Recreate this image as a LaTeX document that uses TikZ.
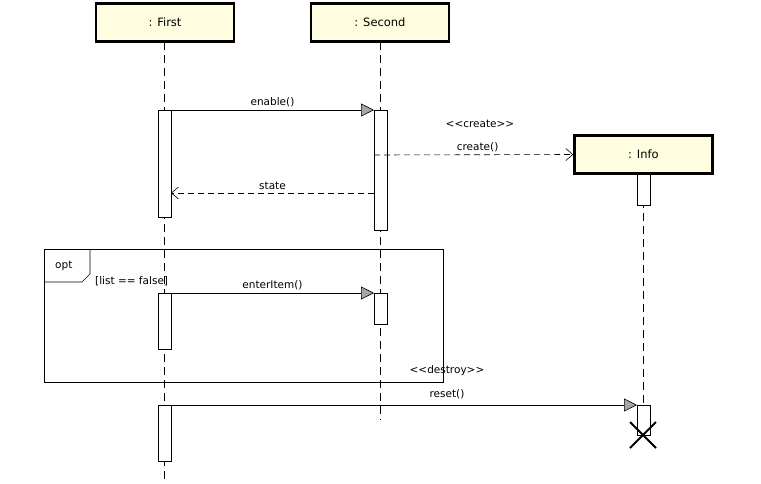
\documentclass[tikz,border=0pt]{standalone}
\usepackage{fontspec}
\setmainfont{DejaVu Sans}[Ligatures=NoCommon]
\usetikzlibrary{arrows.meta}
\begin{document}
\begin{tikzpicture}[x=1pt,y=-1pt,
  obj/.style={draw,line width=2.5pt,fill=yellow!12,minimum width=138pt,minimum height=38pt,inner sep=0pt,font=\fontsize{11.5}{13}\selectfont},
  act/.style={draw,fill=white,line width=0.6pt},
  life/.style={dashed,dash pattern=on 8pt off 5pt,line width=0.6pt},
  sync/.style={line width=0.6pt,-{Triangle[length=13pt,width=13pt,fill=gray!70]}},
  ret/.style={line width=0.6pt,dashed,dash pattern=on 6pt off 4pt,-{Straight Barb[length=7pt,width=12pt]}},
  lbl/.style={font=\fontsize{10.5}{12}\selectfont,inner sep=1pt},
]
\useasboundingbox (0,0) rectangle (761,483);
\node[obj] (first) at (165,22.5) {: First};
\node[obj] (second) at (380,22.5) {: Second};
\node[obj] (info) at (643.5,154.5) {: Info};
\coordinate (fe) at (164,480);
\coordinate (se) at (380,420);
\coordinate (ie) at (643,430);
\draw[life] (164,42) -- (fe);
\draw[life] (380,42) -- (se);
\draw[life] (643,174) -- (ie);
% activations
\draw[act] (158,110) rectangle (171,217);
\draw[act] (374,110) rectangle (387,230);
\draw[act] (637,174) rectangle (650,205);
\draw[act] (158,293) rectangle (171,349);
\draw[act] (374,293) rectangle (387,324);
\draw[act] (158,405) rectangle (171,461);
\draw[act] (637,405) rectangle (650,435);
% messages
\coordinate (a1) at (171,110); \coordinate (b1) at (374,110);
\draw[sync] (a1) -- (b1) node[lbl,midway,above=2pt] {enable()};
\coordinate (a2) at (374,155);
\draw[ret] (a2) -- (info.west) node[lbl,pos=0.52,above=2pt] {create()};
\node[lbl] (cr) at (480,124) {{<}{<}create{>}{>}};
\coordinate (a3) at (374,193); \coordinate (b3) at (171,193);
\draw[ret] (a3) -- (b3) node[lbl,midway,above=2pt] {state};
\coordinate (a4) at (171,293); \coordinate (b4) at (374,293);
\draw[sync] (a4) -- (b4) node[lbl,midway,above=2pt] {enterItem()};
\coordinate (a5) at (171,405); \coordinate (b5) at (637,405);
\draw[sync] (a5) -- (b5);
\node[lbl] (rs) at (447,394) {reset()};
\node[lbl] (ds) at (447,371) {{<}{<}destroy{>}{>}};
% opt frame
\draw[line width=0.6pt] (44,249) rectangle (443,382);
\draw[line width=0.6pt] (44,282) -- (82,282) -- (90,274) -- (90,249);
\node[lbl,anchor=west] (opt) at (54,266) {opt};
\node[lbl,anchor=west] (guard) at (94,281) {[list == false]};
% destroy X
\draw[line width=1.8pt] (630,422) -- (656,448) (630,448) -- (656,422);
\end{tikzpicture}
\end{document}
